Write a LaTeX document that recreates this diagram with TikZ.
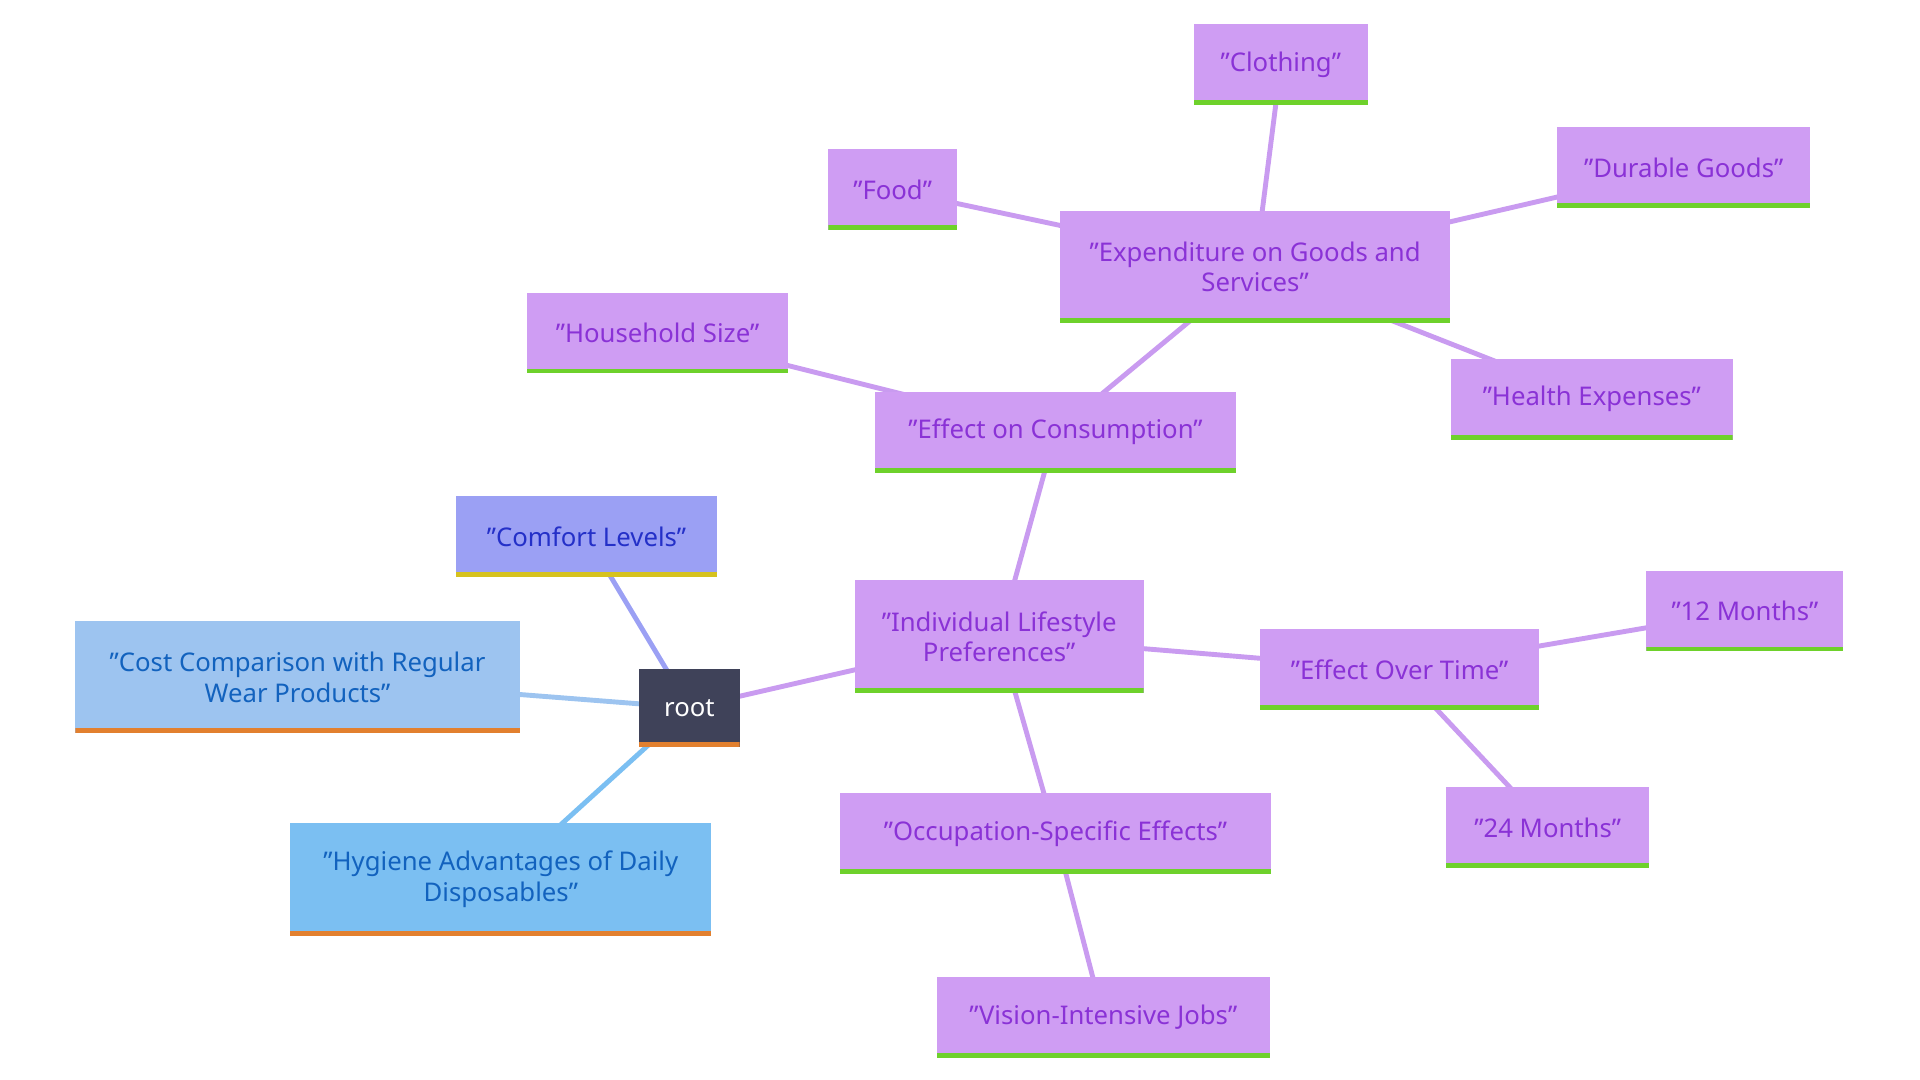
\documentclass[tikz,border=0pt]{standalone}
\usepackage{fontspec}
\setmainfont{Noto Sans}
\usetikzlibrary{backgrounds}
\definecolor{lilac}{HTML}{CF9DF3}
\definecolor{lilactext}{HTML}{8A32D6}
\definecolor{lilacedge}{HTML}{C99BF0}
\definecolor{grass}{HTML}{6ED12B}
\definecolor{periw}{HTML}{9BA0F4}
\definecolor{periwtext}{HTML}{2430C8}
\definecolor{mustard}{HTML}{D6C21E}
\definecolor{skyA}{HTML}{9DC4F0}
\definecolor{skyB}{HTML}{7BBFF2}
\definecolor{skytext}{HTML}{1262BE}
\definecolor{rust}{HTML}{E2802F}
\definecolor{slate}{HTML}{3F4259}
\tikzset{
  box/.style n args={3}{draw=none, fill=#1, text=#2, align=center,
    font=\fontsize{21}{25}\selectfont, inner sep=0pt,
    path picture={\fill[#3] ([yshift=4pt]path picture bounding box.south west)
      rectangle (path picture bounding box.south east);}},
  leaf/.style={box={lilac}{lilactext}{grass}},
  link/.style={line width=4pt, draw=#1},
}
\begin{document}
\begin{tikzpicture}[x=1pt,y=-1pt]
\useasboundingbox (0,0) rectangle (1568,882);
\node[box={slate}{white}{rust}, minimum width=82pt, minimum height=64pt] (root) at (563,578) {root};
\node[box={periw}{periwtext}{mustard}, minimum width=213pt, minimum height=66pt] (comfort) at (479,438) {"Comfort Levels"};
\node[box={skyA}{skytext}{rust}, minimum width=363pt, minimum height=91pt] (cost) at (243,553) {"Cost Comparison with Regular\\Wear Products"};
\node[box={skyB}{skytext}{rust}, minimum width=344pt, minimum height=92pt] (hygiene) at (409,718) {"Hygiene Advantages of Daily\\Disposables"};
\node[leaf, minimum width=236pt, minimum height=92pt] (lifestyle) at (816,520) {"Individual Lifestyle\\Preferences"};
\node[leaf, minimum width=295pt, minimum height=66pt] (consumption) at (862,353) {"Effect on Consumption"};
\node[leaf, minimum width=213pt, minimum height=66pt] (household) at (537,272) {"Household Size"};
\node[leaf, minimum width=319pt, minimum height=91pt] (expenditure) at (1025,218) {"Expenditure on Goods and\\Services"};
\node[leaf, minimum width=105pt, minimum height=66pt] (food) at (729,155) {"Food"};
\node[leaf, minimum width=142pt, minimum height=66pt] (clothing) at (1046,53) {"Clothing"};
\node[leaf, minimum width=207pt, minimum height=66pt] (durable) at (1375,137) {"Durable Goods"};
\node[leaf, minimum width=230pt, minimum height=66pt] (health) at (1300,326) {"Health Expenses"};
\node[leaf, minimum width=228pt, minimum height=66pt] (overtime) at (1143,547) {"Effect Over Time"};
\node[leaf, minimum width=161pt, minimum height=66pt] (twelve) at (1425,499) {"12 Months"};
\node[leaf, minimum width=166pt, minimum height=66pt] (twentyfour) at (1264,676) {"24 Months"};
\node[leaf, minimum width=352pt, minimum height=66pt] (occupation) at (862,681) {"Occupation-Specific Effects"};
\node[leaf, minimum width=272pt, minimum height=66pt] (vision) at (901,831) {"Vision-Intensive Jobs"};
% connectors behind the boxes
\begin{pgfonlayer}{background}
\draw[link=periw] (root.center) -- (comfort.center);
\draw[link=skyA] (root.center) -- (cost.center);
\draw[link=skyB] (root.center) -- (hygiene.center);
\draw[link=lilacedge] (root.center) -- (lifestyle.center);
\draw[link=lilacedge] (lifestyle.center) -- (consumption.center);
\draw[link=lilacedge] (lifestyle.center) -- (overtime.center);
\draw[link=lilacedge] (lifestyle.center) -- (occupation.center);
\draw[link=lilacedge] (consumption.center) -- (household.center);
\draw[link=lilacedge] (consumption.center) -- (expenditure.center);
\draw[link=lilacedge] (expenditure.center) -- (food.center);
\draw[link=lilacedge] (expenditure.center) -- (clothing.center);
\draw[link=lilacedge] (expenditure.center) -- (durable.center);
\draw[link=lilacedge] (expenditure.center) -- (health.center);
\draw[link=lilacedge] (overtime.center) -- (twelve.center);
\draw[link=lilacedge] (overtime.center) -- (twentyfour.center);
\draw[link=lilacedge] (occupation.center) -- (vision.center);
\end{pgfonlayer}
\end{tikzpicture}
\end{document}
